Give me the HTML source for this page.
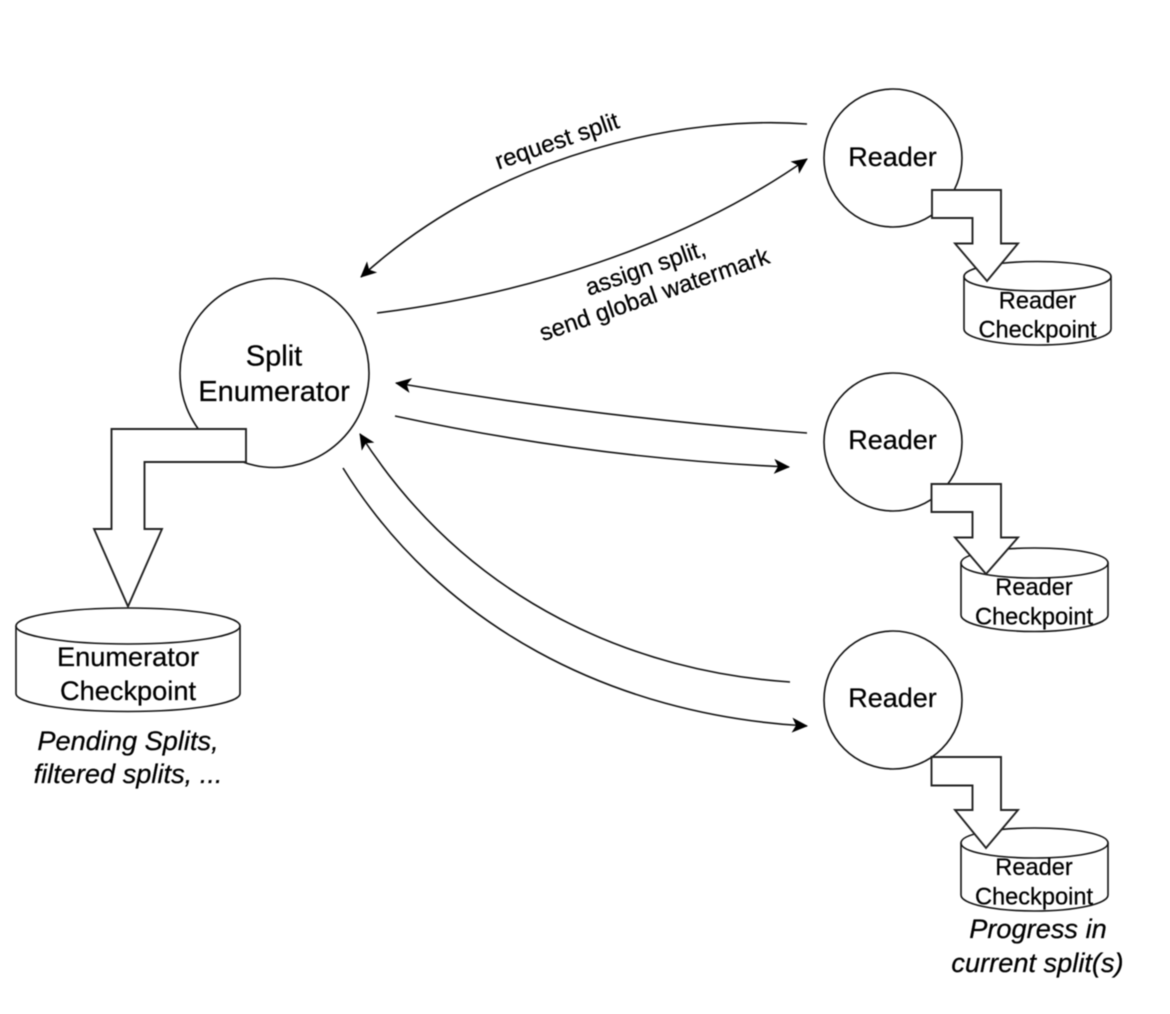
<!DOCTYPE html>
<html>
<head>
<meta charset="utf-8">
<style>
html,body{margin:0;padding:0;background:#fff;}
svg{display:block;filter:blur(0.45px);}
text{font-family:"Liberation Sans",sans-serif;fill:#000;stroke:#000;stroke-width:0.25;}
.big{font-size:27px;}
.mid{font-size:27.2px;}
.small{font-size:23.6px;}
.lab{font-size:24px;}
.it{font-size:27.2px;font-style:italic;}
.s{fill:none;stroke:#111;stroke-width:1.6;}
.w{fill:#fff;stroke:#111;stroke-width:1.6;}
.a{fill:#fff;stroke:#222;stroke-width:1.9;}
</style>
</head>
<body>
<svg width="1170" height="1014" viewBox="0 0 1170 1014" xmlns="http://www.w3.org/2000/svg">
<defs>
<marker id="h" markerUnits="userSpaceOnUse" markerWidth="18" markerHeight="16" refX="15" refY="7.5" orient="auto" viewBox="0 0 18 16">
<path d="M0,0 L16,7.5 L0,15 L4,7.5 Z" fill="#000"/>
</marker>
</defs>
<rect width="1170" height="1014" fill="#fff"/>

<!-- connectors -->
<path class="s" d="M807,124 C690,115 500,150 361,277" marker-end="url(#h)"/>
<path class="s" d="M377,313 C520,295 680,248 807,159" marker-end="url(#h)"/>
<path class="s" d="M807,433 Q600,418 396,383" marker-end="url(#h)"/>
<path class="s" d="M395,416 Q592,458.5 789,467" marker-end="url(#h)"/>
<path class="s" d="M790,682 C640,672 470,606 360,434" marker-end="url(#h)"/>
<path class="s" d="M343,468 C440,625 610,715 807,726" marker-end="url(#h)"/>

<!-- circles -->
<circle class="w" cx="274.5" cy="373" r="94.5"/>
<circle class="w" cx="893" cy="158" r="69"/>
<circle class="w" cx="893" cy="442" r="69"/>
<circle class="w" cx="893" cy="700" r="69"/>

<!-- cylinders -->
<path class="w" d="M16,626 V693.5 C16,703.5 66,711.5 128,711.5 C190,711.5 240,703.5 240,693.5 V626 C240,616 190,608 128,608 C66,608 16,616 16,626 Z"/>
<path class="s" d="M16,626 C16,636 66,644 128,644 C190,644 240,636 240,626"/>

<path class="w" d="M964,276.5 V329 C964,338 997,345 1037.5,345 C1078,345 1111,338 1111,329 V276.5 C1111,268 1078,261.5 1037.5,261.5 C997,261.5 964,268 964,276.5 Z"/>
<path class="s" d="M964,276.5 C964,285 997,291 1037.5,291 C1078,291 1111,285 1111,276.5"/>

<path class="w" d="M961,563 V615 C961,624 994,631.5 1034.5,631.5 C1075,631.5 1108,624 1108,615 V563 C1108,554 1075,548 1034.5,548 C994,548 961,554 961,563 Z"/>
<path class="s" d="M961,563 C961,572 994,578 1034.5,578 C1075,578 1108,572 1108,563"/>

<path class="w" d="M961,843 V895 C961,904 994,911 1034.5,911 C1075,911 1108,904 1108,895 V843 C1108,834 1075,828 1034.5,828 C994,828 961,834 961,843 Z"/>
<path class="s" d="M961,843 C961,852 994,858 1034.5,858 C1075,858 1108,852 1108,843"/>

<!-- block arrows -->
<polygon class="a" points="111.5,429 246,429 246,462 144.5,462 144.5,529 162,529 128,606.5 94,529 111.5,529"/>
<polygon class="a" points="932,190 1001,190 1001,243.5 1018,243.5 987,281 955,243.5 972.5,243.5 972.5,218 932,218"/>
<polygon class="a" points="931.5,484 1001,484 1001,537.5 1018,537.5 986,574 955,537.5 972.5,537.5 972.5,512 931.5,512"/>
<polygon class="a" points="931.5,757 1001,757 1001,810 1018,810 986,848 955,810 972.5,810 972.5,785.5 931.5,785.5"/>

<!-- labels -->
<text class="big" style="font-size:29px" x="274" y="365.5" text-anchor="middle">Split</text>
<text class="big" style="font-size:29px" x="274" y="401" text-anchor="middle">Enumerator</text>
<text class="big" x="892.5" y="166" text-anchor="middle">Reader</text>
<text class="big" x="892.5" y="449" text-anchor="middle">Reader</text>
<text class="big" x="892.5" y="707" text-anchor="middle">Reader</text>

<text class="mid" x="128" y="666" text-anchor="middle">Enumerator</text>
<text class="mid" x="128" y="700" text-anchor="middle">Checkpoint</text>

<text class="small" x="1037.5" y="308.5" text-anchor="middle">Reader</text>
<text class="small" x="1037.5" y="337.5" text-anchor="middle">Checkpoint</text>
<text class="small" x="1034" y="595" text-anchor="middle">Reader</text>
<text class="small" x="1034" y="624.5" text-anchor="middle">Checkpoint</text>
<text class="small" x="1034" y="875" text-anchor="middle">Reader</text>
<text class="small" x="1034" y="904.5" text-anchor="middle">Checkpoint</text>

<text class="it" x="128" y="750" text-anchor="middle">Pending Splits,</text>
<text class="it" x="128" y="783" text-anchor="middle">filtered splits, ...</text>
<text class="it" x="1038" y="938" text-anchor="middle">Progress in</text>
<text class="it" x="1037.5" y="972" text-anchor="middle">current split(s)</text>

<text class="lab" text-anchor="middle" transform="translate(559.5,148.5) rotate(-19)">request split</text>
<text class="lab" text-anchor="middle" transform="translate(648,275.5) rotate(-19)">assign split,</text>
<text class="lab" text-anchor="middle" transform="translate(657,302) rotate(-19)">send global watermark</text>
</svg>
</body>
</html>
